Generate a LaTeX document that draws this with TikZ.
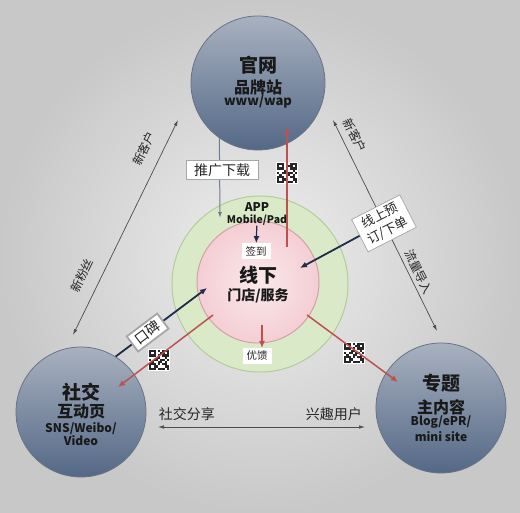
\documentclass[tikz,border=0pt]{standalone}
\usepackage{fontspec}
\newfontfamily\hei{Noto Sans CJK SC}
\usetikzlibrary{positioning, calc, arrows.meta}

\definecolor{bgin}{RGB}{238,238,238}
\definecolor{bgout}{RGB}{200,200,200}
\definecolor{bluetop}{RGB}{168,177,192}
\definecolor{bluebot}{RGB}{84,104,134}
\definecolor{blueline}{RGB}{105,115,132}
\definecolor{ringfill}{RGB}{218,234,200}
\definecolor{ringline}{RGB}{178,204,156}
\definecolor{corefill}{RGB}{244,206,212}
\definecolor{coreline}{RGB}{212,160,166}
\definecolor{navy}{RGB}{30,45,75}
\definecolor{redline}{RGB}{192,80,80}
\definecolor{promoline}{RGB}{110,125,150}

\tikzset{
  bubble/.style={circle, draw=blueline, line width=0.8pt, top color=bluetop, bottom color=bluebot, minimum size=#1, inner sep=0pt},
  ring/.style={circle, draw=ringline, line width=1pt, fill=ringfill, minimum size=176pt, inner sep=0pt},
  core/.style={circle, draw=coreline, line width=1pt, inner color=corefill!45!white, outer color=corefill, minimum size=122pt, inner sep=0pt},
  title/.style={text=black!90, font=\hei\bfseries\fontsize{19}{21}\selectfont, inner sep=0pt},
  subtitle/.style={text=black!90, font=\hei\bfseries\fontsize{16}{18}\selectfont, inner sep=0pt},
  latin/.style={text=black!90, font=\hei\bfseries\fontsize{12}{14}\selectfont, inner sep=0pt},
  tag/.style={draw=gray!70, fill=white, text=black!85, font=\hei\fontsize{14}{16}\selectfont, inner xsep=5pt, inner ysep=3pt},
  plaintag/.style={fill=white, text=black!85, font=\hei\fontsize{10.5}{12}\selectfont, inner xsep=4pt, inner ysep=3pt},
  linelabel/.style={text=black!85, font=\hei\fontsize{12}{14}\selectfont, inner sep=0pt},
  thinarrow/.style={draw=black!70, line width=0.7pt, {Latex[length=6pt,width=3.5pt]}-{Latex[length=6pt,width=3.5pt]}},
  navyarrow/.style={draw=navy, line width=1.8pt, -{Latex[length=7pt,width=6pt]}},
  redarrow/.style={draw=redline, line width=1.5pt, -{Latex[length=7pt,width=6pt]}},
  qr/.pic={
    \fill[white] (-11,-11) rectangle (11,11);
    \foreach \row [count=\r] in {{1,1,1,0,1,0,1,1,1},{1,0,1,0,0,1,1,0,1},{1,1,1,0,1,0,1,1,1},
      {0,0,0,1,1,0,0,1,0},{1,0,1,1,0,1,1,0,1},{0,1,0,0,1,1,0,1,0},
      {1,1,1,0,1,0,1,1,0},{1,0,1,1,0,0,0,1,1},{1,1,1,0,1,1,1,0,1}}{
      \foreach \c [count=\k] in \row {
        \ifnum\c=1 \fill[black!85] (\k*2.2-12.1, \r*2.2-12.1) rectangle ++(2.2,2.2); \fi
      }
    }
  }
}

\begin{document}
\begin{tikzpicture}[x=1pt, y=-1pt]
\useasboundingbox (0,0) rectangle (520,513);
\shade[inner color=bgin, outer color=bgout] (0,0) rectangle (520,513);

% free ends of the long connectors
\coordinate (fans) at (73,335);
\coordinate (webL) at (178,120);
\coordinate (webR) at (333,120);
\coordinate (flow) at (437,331);
\coordinate (shareL) at (158,427);
\coordinate (shareR) at (365,427);

% channel circles
\node[bubble=134pt] (web) at (258,83) {};
\node[bubble=130pt] (social) at (81,412) {};
\node[bubble=130pt] (topic) at (441,408) {};

% rings in the middle
\node[ring] (app) at (260,284) {};
\node[core] (store) at (258,282) {};

% long lines
\draw[thinarrow] (fans) -- node[linelabel, sloped, above=12pt, pos=0.24] (fans-label) {新粉丝}
  node[linelabel, sloped, above=12pt, pos=0.83] (newL-label) {新客户} (webL);
\draw[thinarrow] (webR) -- node[linelabel, sloped, above=7pt, pos=0.1] (newR-label) {新客户}
  node[linelabel, sloped, above=4pt, pos=0.74] (flow-label) {流量导入}
  node[tag, rotate=27, align=center, font=\hei\fontsize{13}{17}\selectfont, pos=0.49] (booking) {线上预\\订/下单} (flow);
\draw[thinarrow] (shareL) -- node[linelabel, font=\hei\fontsize{14}{16}\selectfont, above=6pt, pos=0.14] (share-label) {社交分享}
  node[linelabel, font=\hei\fontsize{14}{16}\selectfont, above=6pt, pos=0.85] (fan-label) {兴趣用户} (shareR);

% texts in circles
\node[title] (web-t) at (258,65) {官网};
\node[subtitle] (web-s) at (258,87) {品牌站};
\node[latin, font=\hei\bfseries\fontsize{13}{15}\selectfont] (web-u) at (258,102) {www/wap};

\node[title] (social-t) at (81,392) {社交};
\node[subtitle] (social-s) at (81,412) {互动页};
\node[latin] (social-u) at (81,429) {SNS/Weibo/};
\node[latin] (social-v) at (81,441) {Video};

\node[title] (topic-t) at (441,383) {专题};
\node[subtitle] (topic-s) at (441,407) {主内容};
\node[latin] (topic-u) at (441,422) {Blog/ePR/};
\node[latin] (topic-v) at (441,437) {mini site};

\node[latin] (app-t) at (257,207) {APP};
\node[latin, font=\hei\bfseries\fontsize{10.5}{12}\selectfont] (app-s) at (257,220) {Mobile/Pad};
\node[plaintag] (signin) at (256,251) {签到};
\node[title] (store-t) at (258,275) {线下};
\node[latin, font=\hei\bfseries\fontsize{14}{16}\selectfont] (store-s) at (258,296) {门店/服务};
\node[plaintag] (reward) at (257,356) {优馈};

% download line
\draw[promoline, line width=1pt, -{Latex[length=6pt,width=4pt]}] (web.-125) -- (220,218);
\node[tag, inner xsep=8pt] (promo) at (222,170) {推广下载};

% qr codes
\pic (qr-top) at (287,173) {qr};
\pic (qr-left) at (159,360) {qr};
\pic (qr-right) at (354,353) {qr};

% arrows
\draw[navyarrow, line width=1.2pt] (app-s) -- (signin);
\draw[navyarrow] (booking.west) -- ($(store.center)+(42,-14)$);
\draw[navyarrow] (social.58) -- node[tag, sloped, pos=0.35] (wom) {口碑} ($(store.center)+(-51,6)$);
\draw[redarrow] ($(store.center)+(29,-35)$) -- ($(web.center)+(29,44)$);
\draw[redarrow] ($(store.center)+(-45,33)$) -- ($(social.center)+(37,-25)$);
\draw[redarrow] ($(store.center)+(49,33)$) -- ($(topic.center)+(-43,-26)$);
\draw[redarrow, line width=1.2pt] ($(store.center)+(4,43)$) -- ([xshift=5pt]reward.north);
\end{tikzpicture}
\end{document}
